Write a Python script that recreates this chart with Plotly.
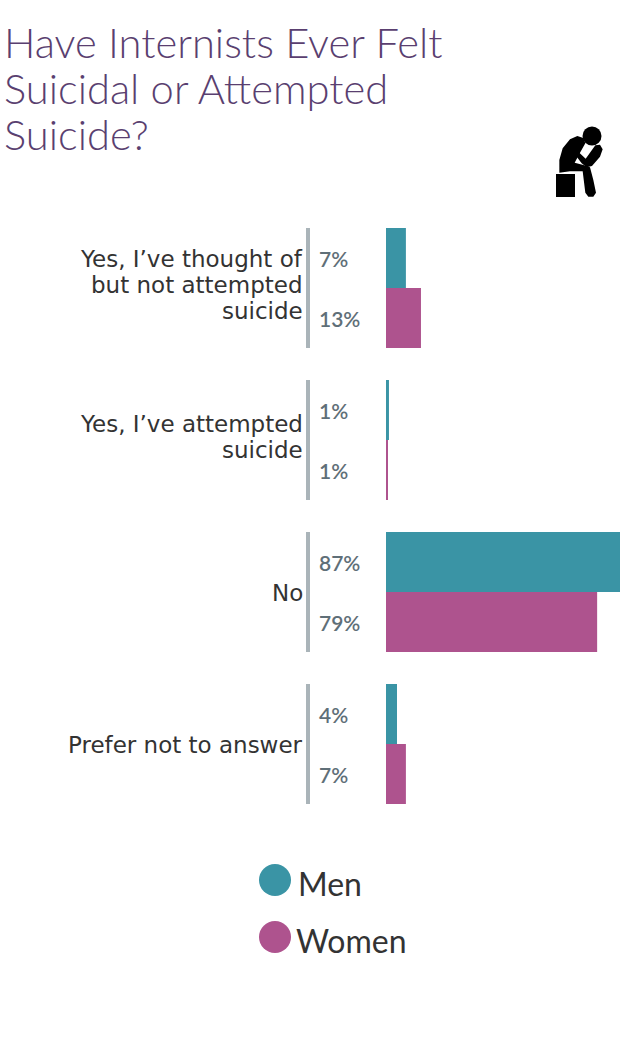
import plotly.graph_objects as go

# values
categories = ["Yes, I've thought of", "Yes, I've attempted", "No", "Prefer not to answer"]
label_lines = [
    ["Yes, I’ve thought of", "but not attempted", "suicide"],
    ["Yes, I’ve attempted", "suicide"],
    ["No"],
    ["Prefer not to answer"],
]
men_values = [7.4, 1.1, 87, 4.1]
women_values = [13, 0.5, 78.5, 7.4]
men_labels = ["7%", "1%", "87%", "4%"]
women_labels = ["13%", "1%", "79%", "7%"]
title_lines = ["Have Internists Ever Felt", "Suicidal or Attempted", "Suicide?"]
legend_names = ["Men", "Women"]

TEAL = "#3a94a5"
MAGENTA = "#ae538e"
GREY = "#aab4b9"
TEXT = "#333333"
PCT = "#5f6f78"
PURPLE = "#5a3f70"
FONT = "Lato"

# plot area in page pixels
LEFT, RIGHT, TOP, BOTTOM = 386, 620, 212, 820


def px_x(px):
    return (px - LEFT) / (RIGHT - LEFT)


def px_y(py):
    return (BOTTOM - py) / (BOTTOM - TOP)


def icon_path(points):
    # points are in 3x crop coordinates of the icon box
    coords = [(px_x(520 + x / 3), px_y(110 + y / 3)) for x, y in points]
    return "M" + " L".join(f"{x:.5f},{y:.5f}" for x, y in coords) + " Z"


fig = go.Figure()
fig.add_trace(go.Bar(y=categories, x=men_values, orientation="h", name="Men",
                     marker_color=TEAL, marker_line_width=0, hoverinfo="skip"))
fig.add_trace(go.Bar(y=categories, x=women_values, orientation="h", name="Women",
                     marker_color=MAGENTA, marker_line_width=0, hoverinfo="skip"))

annotations = []
shapes = []

for i, lines in enumerate(label_lines):
    # one annotation per line, the original is set tighter than plotly's line height
    lift = 3 if len(lines) > 1 else -1
    for j, line in enumerate(lines):
        offset = (j - (len(lines) - 1) / 2) * 26
        annotations.append(dict(
            text=line, x=0, y=i, xref="x", yref="y", xanchor="right", yanchor="middle",
            xshift=-81, yshift=lift - offset, showarrow=False,
            font=dict(family="DejaVu Sans", size=23, color=TEXT),
        ))
    for label, shift in ((men_labels[i], 30), (women_labels[i], -30)):
        annotations.append(dict(
            text=label, x=0, y=i, xref="x", yref="y", xanchor="left", yanchor="middle",
            xshift=-69, yshift=shift, showarrow=False,
            font=dict(family=FONT, size=21, color=PCT, weight=600),
        ))
    shapes.append(dict(
        type="line", xref="paper", yref="y", x0=px_x(308), x1=px_x(308),
        y0=i - 60 / 152, y1=i + 60 / 152, line=dict(color=GREY, width=4),
    ))

for j, line in enumerate(title_lines):
    annotations.append(dict(
        text=line, xref="paper", yref="paper", x=px_x(2), y=px_y(42 + j * 46),
        xanchor="left", yanchor="middle", showarrow=False,
        font=dict(family="Lato Light, Lato", size=41.7, color=PURPLE),
    ))

# legend drawn by hand because the swatches are large circles
for name, color, cy, tx, ty in ((legend_names[0], TEAL, 880, 296, 883),
                                (legend_names[1], MAGENTA, 937, 294, 941)):
    shapes.append(dict(
        type="circle", xref="paper", yref="paper", x0=px_x(259), x1=px_x(291),
        y0=px_y(cy - 16), y1=px_y(cy + 16), fillcolor=color, line_width=0,
    ))
    annotations.append(dict(
        text=name, xref="paper", yref="paper", x=px_x(tx), y=px_y(ty),
        xanchor="left", yanchor="middle", showarrow=False,
        font=dict(family=FONT, size=32, color=TEXT),
    ))

# thinker icon
shapes.append(dict(type="circle", xref="paper", yref="paper", x0=px_x(582.5), x1=px_x(601.5),
                   y0=px_y(126.5), y1=px_y(145.5), fillcolor="black", line_width=0))
shapes.append(dict(type="rect", xref="paper", yref="paper", x0=px_x(556), x1=px_x(575),
                   y0=px_y(174), y1=px_y(197), fillcolor="black", line_width=0))
shapes.append(dict(type="path", xref="paper", yref="paper", fillcolor="black", line_width=0, path=icon_path([
    (118, 188), (118, 150), (128, 115), (150, 88), (172, 78), (190, 84), (196, 100),
    (180, 128), (164, 158), (190, 165), (210, 172), (220, 210), (228, 248), (220, 260),
    (205, 260), (196, 248), (188, 184), (150, 184),
])))
shapes.append(dict(type="path", xref="paper", yref="paper", fillcolor="black", line_width=0, path=icon_path([
    (178, 128), (197, 146), (226, 106), (240, 104), (248, 118), (240, 140), (216, 168), (200, 172), (185, 160), (170, 140),
])))

fig.update_layout(
    width=640,
    height=1039,
    margin=dict(l=LEFT, r=640 - RIGHT, t=TOP, b=1039 - BOTTOM),
    paper_bgcolor="white",
    plot_bgcolor="white",
    barmode="group",
    bargap=32 / 152,
    bargroupgap=0,
    showlegend=False,
    annotations=annotations,
    shapes=shapes,
    xaxis=dict(visible=False, range=[0, 87], fixedrange=True),
    yaxis=dict(visible=False, autorange="reversed", fixedrange=True),
)

# drop the page's default body margin so the figure fills the window
fig.write_html("out.html", config={"displayModeBar": False},
               post_script="document.body.style.margin = '0';")
